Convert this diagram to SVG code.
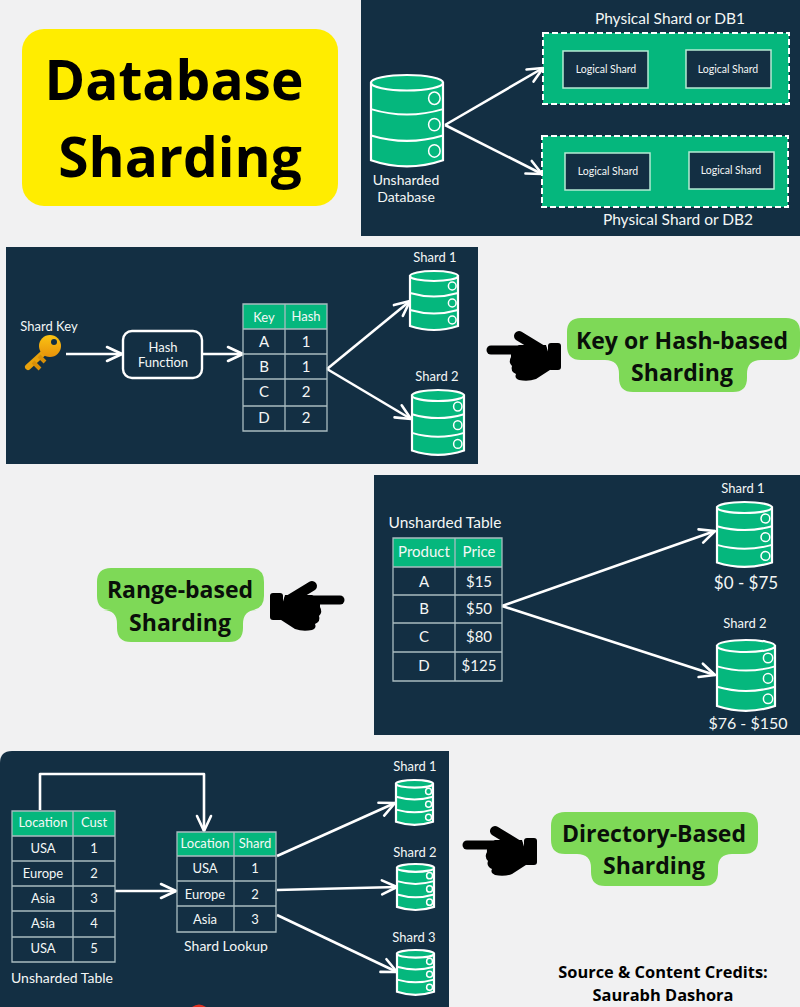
<svg xmlns="http://www.w3.org/2000/svg" width="800" height="1007" viewBox="0 0 800 1007">
<style>
.panel{fill:#132f43}
.hw{font-family:"Lato","Liberation Sans",sans-serif;fill:#f4f7f6;text-anchor:middle;font-size:14px}
.sm{font-size:10.5px}
.md{font-size:13px}
.lg{font-size:15.5px}
.cell{font-size:15px}
.title{font-family:"Open Sans","Liberation Sans",sans-serif;font-weight:700;fill:#000;text-anchor:middle;font-size:55px}
.tag{font-family:"Open Sans","Liberation Sans",sans-serif;font-weight:700;fill:#0a0f0a;text-anchor:middle;font-size:23px}
.credit{font-family:"Open Sans","Liberation Sans",sans-serif;font-weight:700;fill:#000;text-anchor:middle;font-size:16.4px}
.bubble{fill:#7ed957}
.grid{fill:none;stroke:#a9bcc0;stroke-width:1.3}
.head{fill:#05b77d}
.conn{fill:none;stroke:#fff;stroke-width:2.6;stroke-linejoin:round}
.arrow{marker-end:url(#open)}
.inner{fill:#132f43;stroke:#b5ebd4;stroke-width:1.5}
.pshard{fill:#05b77d;stroke:#fff;stroke-width:2;stroke-dasharray:6 3}
.cb{fill:#05b77d;stroke:#fff;stroke-width:2.2;vector-effect:non-scaling-stroke}
.cl{fill:none;stroke:#fff;stroke-width:2;vector-effect:non-scaling-stroke}
.cc{fill:none;stroke:#fff;stroke-width:1.5;vector-effect:non-scaling-stroke}
</style>
<defs>
<linearGradient id="gold" x1="0" y1="0" x2="0" y2="1"><stop offset="0" stop-color="#fbc413"/><stop offset="1" stop-color="#e8920a"/></linearGradient>
<marker id="open" markerUnits="userSpaceOnUse" markerWidth="20" markerHeight="20" refX="0" refY="0" orient="auto" overflow="visible">
<path d="M-15,-7 L0,0 L-15,7" fill="none" stroke="#fff" stroke-width="2.6" stroke-linecap="round" stroke-linejoin="round"/>
</marker>
<g id="cyl">
<path class="cb" d="M0 5 V55 Q25 63 50 55 V5 Z"/>
<ellipse class="cb" cx="25" cy="5" rx="25" ry="5"/>
<path class="cl" d="M0 22 Q25 29 50 22 M0 39 Q25 46 50 39"/>
<circle class="cc" cx="44" cy="15" r="4"/><circle class="cc" cx="44" cy="32" r="4"/><circle class="cc" cx="44" cy="49" r="4"/>
</g>
<g id="hand" fill="#000">
<path d="M5 20 H40" stroke="#000" stroke-width="9" stroke-linecap="round"/>
<path d="M33 6 L56 20" stroke="#000" stroke-width="10" stroke-linecap="round"/>
<path d="M33 15 L60 15 L67 38 L50 49 Q42 52 33 50 Q28 48 30 44 Q24 41 26 36 Q22 32 25 27 Q24 20 33 15Z"/>
<rect x="62" y="13" width="13" height="27" rx="3"/>
</g>
</defs>
<rect width="800" height="1007" fill="#f1f1f2"/>

<g id="title">
<rect x="22" y="29" width="316" height="177" rx="22" fill="#ffed00"/>
<text class="title" x="174" y="100">Database</text>
<text class="title" x="180" y="177">Sharding</text>
</g>

<rect class="panel" x="361" y="0" width="439" height="236"/>
<rect class="panel" x="6" y="247" width="472" height="217"/>
<rect class="panel" x="374" y="475" width="426" height="260"/>
<path class="panel" d="M0 1007 V763 Q0 751 12 751 H449 V1007Z"/>

<g id="connectors">
<path class="conn arrow" d="M445 125 L543 68"/>
<path class="conn arrow" d="M445 125 L542 174"/>
<path class="conn arrow" d="M66 354 H122"/>
<path class="conn arrow" d="M203 354 H243"/>
<path class="conn arrow" d="M327 369 L410 301"/>
<path class="conn arrow" d="M327 369 L411 419"/>
<path class="conn arrow" d="M502 606 L715 531"/>
<path class="conn arrow" d="M502 606 L715 675"/>
<path class="conn arrow" d="M40 810 V774 H204 V831"/>
<path class="conn arrow" d="M115 891 H176"/>
<path class="conn arrow" d="M277 856 L395 803"/>
<path class="conn arrow" d="M277 890 L397 887"/>
<path class="conn arrow" d="M277 915 L397 972"/>
</g>

<g id="unsharded-db">
<use href="#cyl" transform="translate(371 75) scale(1.44 1.55)"/>
<text class="hw" x="406" y="185">Unsharded</text>
<text class="hw" x="406" y="202">Database</text>
</g>
<g id="physical-shard-1">
<text class="hw lg" x="670" y="24">Physical Shard or DB1</text>
<rect class="pshard" x="543" y="33" width="246" height="71"/>
<rect class="inner" x="563" y="51" width="85" height="37"/>
<text class="hw sm" x="606" y="73">Logical Shard</text>
<rect class="inner" x="686" y="50" width="85" height="38"/>
<text class="hw sm" x="728" y="73">Logical Shard</text>
</g>
<g id="physical-shard-2">
<rect class="pshard" x="542" y="136" width="246" height="71"/>
<rect class="inner" x="565" y="153" width="85" height="37"/>
<text class="hw sm" x="608" y="175">Logical Shard</text>
<rect class="inner" x="689" y="152" width="85" height="37"/>
<text class="hw sm" x="731" y="174">Logical Shard</text>
<text class="hw lg" x="678" y="225">Physical Shard or DB2</text>
</g>

<g id="shard-key">
<text class="hw md" x="49" y="331">Shard Key</text>
<path d="M28 367 L50 347" stroke="#e8a20c" stroke-width="6" stroke-linecap="round"/>
<path d="M33 362 L40 369 M39 356 L45 362" stroke="#d88f08" stroke-width="4"/>
<circle cx="50" cy="346" r="11" fill="url(#gold)"/>
<circle cx="54" cy="342" r="3" fill="#132f43"/>
</g>
<g id="hash-function">
<rect x="123" y="331" width="79" height="47" rx="9" fill="#132f43" stroke="#fff" stroke-width="2.4"/>
<text class="hw md" x="163" y="352">Hash</text>
<text class="hw md" x="163" y="367">Function</text>
</g>
<g id="key-hash-table">
<rect class="head" x="243" y="304" width="84" height="25"/>
<path class="grid" d="M243 304 H327 V431 H243Z M285 304 V431 M243 329 H327 M243 354 H327 M243 379 H327 M243 406 H327"/>
<text class="hw md" x="264" y="322">Key</text><text class="hw md" x="306" y="321">Hash</text>
<text class="hw cell" x="264" y="347">A</text><text class="hw cell" x="306" y="347">1</text>
<text class="hw cell" x="264" y="372">B</text><text class="hw cell" x="306" y="372">1</text>
<text class="hw cell" x="264" y="397">C</text><text class="hw cell" x="306" y="397">2</text>
<text class="hw cell" x="264" y="423">D</text><text class="hw cell" x="306" y="423">2</text>
</g>
<g id="hash-shard-1">
<text class="hw md" x="435" y="262">Shard 1</text>
<use href="#cyl" transform="translate(410 271) scale(.96 1)"/>
</g>
<g id="hash-shard-2">
<text class="hw md" x="437" y="381">Shard 2</text>
<use href="#cyl" transform="translate(412 390) scale(1.04 1.1)"/>
</g>
<g id="hash-tag">
<use href="#hand" transform="translate(486 330)"/>
<path class="bubble" d="M581 318 H786 Q800 318 800 332 V346 Q800 360 786 360 H761 Q747 360 747 374 V378 Q747 392 733 392 H633 Q619 392 619 378 V374 Q619 360 605 360 H581 Q567 360 567 346 V332 Q567 318 581 318Z"/>
<text class="tag" x="682" y="349">Key or Hash-based</text>
<text class="tag" x="682" y="381">Sharding</text>
</g>

<g id="range-table">
<text class="hw lg" x="445" y="528">Unsharded Table</text>
<rect class="head" x="393" y="538" width="109" height="29"/>
<path class="grid" d="M393 538 H502 V681 H393Z M455 538 V681 M393 567 H502 M393 595 H502 M393 623 H502 M393 652 H502"/>
<text class="hw cell" x="424" y="557">Product</text><text class="hw cell" x="479" y="557">Price</text>
<text class="hw cell" x="424" y="587">A</text><text class="hw cell" x="479" y="587">$15</text>
<text class="hw cell" x="424" y="614">B</text><text class="hw cell" x="479" y="614">$50</text>
<text class="hw cell" x="424" y="642">C</text><text class="hw cell" x="479" y="642">$80</text>
<text class="hw cell" x="424" y="671">D</text><text class="hw cell" x="479" y="671">$125</text>
</g>
<g id="range-shard-1">
<text class="hw md" x="743" y="493">Shard 1</text>
<use href="#cyl" transform="translate(717 502) scale(1.1 1.1)"/>
<text class="hw" style="font-size:17px" x="746" y="589">$0 - $75</text>
</g>
<g id="range-shard-2">
<text class="hw md" x="745" y="628">Shard 2</text>
<use href="#cyl" transform="translate(717 640) scale(1.16 1.2)"/>
<text class="hw" style="font-size:16px" x="748" y="729">$76 - $150</text>
</g>
<g id="range-tag">
<path class="bubble" d="M111 568 H250 Q264 568 264 582 V596 Q264 610 250 610 H257 Q243 610 243 624 V628 Q243 642 229 642 H131 Q117 642 117 628 V624 Q117 610 103 610 H111 Q97 610 97 596 V582 Q97 568 111 568Z"/>
<text class="tag" x="180" y="598">Range-based</text>
<text class="tag" x="180" y="631">Sharding</text>
<use href="#hand" transform="translate(345 580) scale(-1 1)"/>
</g>

<g id="customer-table">
<rect class="head" x="12" y="811" width="103" height="25"/>
<path class="grid" d="M12 811 H115 V962 H12Z M73 811 V962 M12 836 H115 M12 861 H115 M12 886 H115 M12 911 H115 M12 937 H115"/>
<text class="hw md" x="43" y="827">Location</text><text class="hw md" x="94" y="827">Cust</text>
<text class="hw md" x="43" y="853">USA</text><text class="hw md" x="94" y="853">1</text>
<text class="hw md" x="43" y="878">Europe</text><text class="hw md" x="94" y="878">2</text>
<text class="hw md" x="43" y="903">Asia</text><text class="hw md" x="94" y="903">3</text>
<text class="hw md" x="43" y="928">Asia</text><text class="hw md" x="94" y="928">4</text>
<text class="hw md" x="43" y="953">USA</text><text class="hw md" x="94" y="953">5</text>
<text class="hw" x="62" y="983">Unsharded Table</text>
</g>
<g id="lookup-table">
<rect class="head" x="177" y="832" width="99" height="24"/>
<path class="grid" d="M177 832 H276 V932 H177Z M234 832 V932 M177 856 H276 M177 881 H276 M177 906 H276"/>
<text class="hw md" x="205" y="848">Location</text><text class="hw md" x="255" y="848">Shard</text>
<text class="hw md" x="205" y="873">USA</text><text class="hw md" x="255" y="873">1</text>
<text class="hw md" x="205" y="899">Europe</text><text class="hw md" x="255" y="899">2</text>
<text class="hw md" x="205" y="924">Asia</text><text class="hw md" x="255" y="924">3</text>
<text class="hw" x="226" y="951">Shard Lookup</text>
</g>
<g id="dir-shard-1">
<text class="hw md" x="415" y="771">Shard 1</text>
<use href="#cyl" transform="translate(396 780) scale(.74 .76)"/>
</g>
<g id="dir-shard-2">
<text class="hw md" x="415" y="857">Shard 2</text>
<use href="#cyl" transform="translate(397 864) scale(.74 .78)"/>
</g>
<g id="dir-shard-3">
<text class="hw md" x="414" y="942">Shard 3</text>
<use href="#cyl" transform="translate(397 950) scale(.74 .76)"/>
</g>
<path d="M192 1007 Q199 1002 206 1007Z" fill="#e0301e"/>
<g id="directory-tag">
<use href="#hand" transform="translate(462 825)"/>
<path class="bubble" d="M565 812 H744 Q758 812 758 826 V840 Q758 854 744 854 H732 Q718 854 718 868 V872 Q718 886 704 886 H605 Q591 886 591 872 V868 Q591 854 577 854 H565 Q551 854 551 840 V826 Q551 812 565 812Z"/>
<text class="tag" x="654" y="842">Directory-Based</text>
<text class="tag" x="654" y="874">Sharding</text>
</g>
<g id="credits">
<text class="credit" x="663" y="978">Source &amp; Content Credits:</text>
<text class="credit" x="663" y="1001">Saurabh Dashora</text>
</g>
</svg>
